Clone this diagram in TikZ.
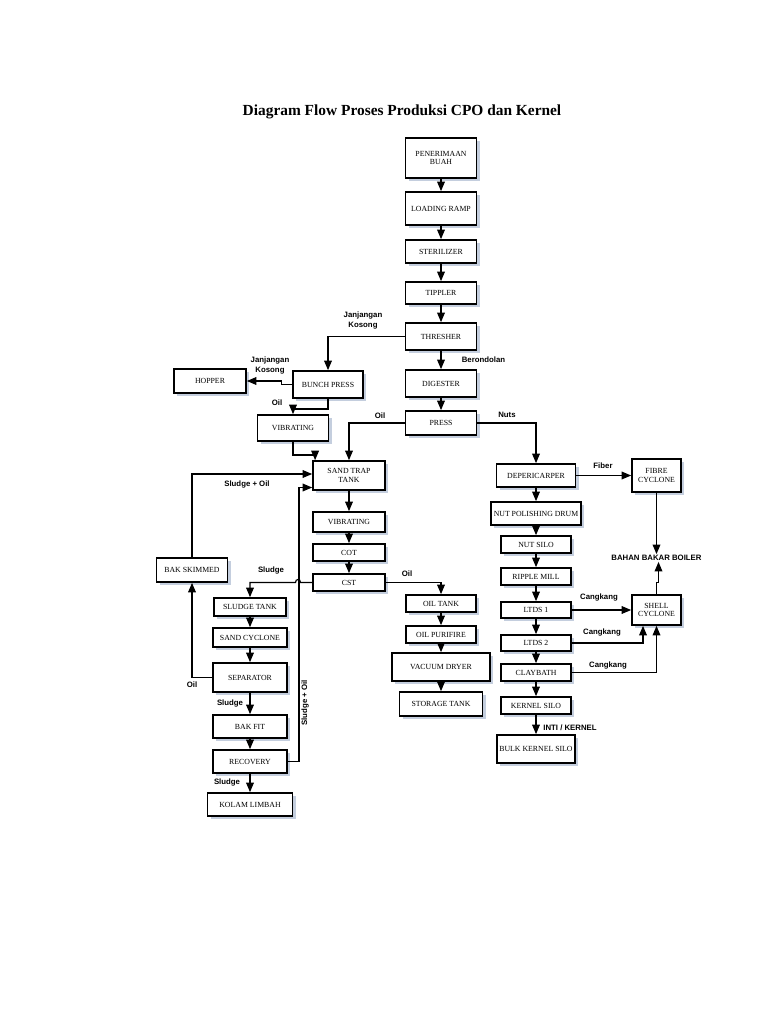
\documentclass[tikz,border=0pt]{standalone}
\usepackage{fontspec}
\setmainfont{Liberation Serif}
\newfontfamily\lblfont{Liberation Sans}
\usetikzlibrary{arrows,shadows}
\definecolor{shade}{RGB}{196,206,222}
\tikzset{
  blk/.style 2 args={draw, line width=1.8pt, fill=white, align=center, inner sep=1pt,
    minimum width=#1pt, minimum height=#2pt, font=\fontsize{7.8}{8.8}\selectfont,
    drop shadow={shadow xshift=3pt, shadow yshift=-3pt, fill=shade, opacity=1}},
  lbl/.style={font=\lblfont\bfseries\fontsize{7.8}{10}\selectfont, inner sep=1pt, align=center},
  flow/.style={->, line width=1.2pt}
}
\begin{document}
\begin{tikzpicture}[>=triangle 45,x=1pt,y=-1pt]
\fill[white] (0,0) rectangle (768,1024);
\useasboundingbox (0,0) rectangle (768,1024);
\node[font=\bfseries\fontsize{15.4}{18}\selectfont] (title) at (402,112) {Diagram Flow Proses Produksi CPO dan Kernel};

\node[blk={71}{40}] (buah) at (441,158) {PENERIMAAN\\BUAH};
\node[blk={71}{33}] (ramp) at (441,208.5) {LOADING RAMP};
\node[blk={71}{23}] (steril) at (441,251.5) {STERILIZER};
\node[blk={71}{22}] (tippler) at (441,293) {TIPPLER};
\node[blk={71}{27}] (thresher) at (441,336.5) {THRESHER};
\node[blk={71}{27}] (digester) at (441,383.5) {DIGESTER};
\node[blk={71}{24}] (press) at (441,423) {PRESS};
\node[blk={70}{27}] (bunch) at (328,384.5) {BUNCH PRESS};
\node[blk={72}{24}] (hopper) at (210,381) {HOPPER};
\node[blk={71}{26}] (vib1) at (293,428) {VIBRATING};
\node[blk={72}{29}] (stt) at (349,475.5) {SAND TRAP\\TANK};
\node[blk={72}{20}] (vib2) at (349,522) {VIBRATING};
\node[blk={72}{17}] (cot) at (349,552.5) {COT};
\node[blk={72}{17}] (cst) at (349,582.5) {CST};
\node[blk={71}{24}] (skim) at (192,570) {BAK SKIMMED};
\node[blk={72}{18}] (sludge) at (250,607) {SLUDGE TANK};
\node[blk={74}{19}] (sandcyc) at (250,637.5) {SAND CYCLONE};
\node[blk={74}{29}] (sep) at (250,677.5) {SEPARATOR};
\node[blk={74}{23}] (bakfit) at (250,726.5) {BAK FIT};
\node[blk={74}{23}] (recov) at (250,761.5) {RECOVERY};
\node[blk={85}{23}] (kolam) at (250,804.5) {KOLAM LIMBAH};
\node[blk={70}{17}] (oiltank) at (441,603.5) {OIL TANK};
\node[blk={70}{17}] (purif) at (441,634.5) {OIL PURIFIRE};
\node[blk={98}{28}] (vacuum) at (441,667) {VACUUM DRYER};
\node[blk={83}{24}] (storage) at (441,704) {STORAGE TANK};
\node[blk={79}{23}] (deper) at (536,475.5) {DEPERICARPER};
\node[blk={49}{33}] (fibre) at (656.5,475.5) {FIBRE\\CYCLONE};
\node[blk={90}{23}] (npd) at (536,513.5) {NUT POLISHING DRUM};
\node[blk={70}{17}] (nutsilo) at (536,544.5) {NUT SILO};
\node[blk={70}{17}] (ripple) at (536,576.5) {RIPPLE MILL};
\node[blk={70}{16}] (ltds1) at (536,610) {LTDS 1};
\node[blk={70}{16}] (ltds2) at (536,643) {LTDS 2};
\node[blk={70}{17}] (clay) at (536,672.5) {CLAYBATH};
\node[blk={70}{17}] (kernel) at (536,705.5) {KERNEL SILO};
\node[blk={78}{28}] (bulk) at (536,749) {BULK KERNEL SILO};
\node[blk={49}{30}] (shell) at (656.5,610) {SHELL\\CYCLONE};
\node[lbl] (boiler) at (656.5,558) {BAHAN BAKAR BOILER};

\node[lbl] (jk1) at (363,320.5) {Janjangan\\Kosong};
\node[lbl] (jk2) at (270,365.5) {Janjangan\\Kosong};
\node[lbl] (oil1) at (277,403) {Oil};
\node[lbl] (oil2) at (380,416) {Oil};
\node[lbl] (nuts) at (507,415) {Nuts};
\node[lbl] (beron) at (483.5,360) {Berondolan};
\node[lbl] (slo1) at (247,484) {Sludge + Oil};
\node[lbl, rotate=90] (slo2) at (305,703) {Sludge + Oil};
\node[lbl] (sludge1) at (271,570) {Sludge};
\node[lbl] (oil3) at (407,574) {Oil};
\node[lbl] (oil4) at (192,685) {Oil};
\node[lbl] (sludge2) at (230,703) {Sludge};
\node[lbl] (sludge3) at (227,782) {Sludge};
\node[lbl] (fiber) at (603,466) {Fiber};
\node[lbl] (cang1) at (599,597) {Cangkang};
\node[lbl] (cang2) at (602,632) {Cangkang};
\node[lbl] (cang3) at (608,665) {Cangkang};
\node[lbl] (inti) at (570,728) {INTI / KERNEL};
\coordinate (hop) at (298,582.5);

\draw[flow] (buah) -- (ramp);
\draw[flow] (ramp) -- (steril);
\draw[flow] (steril) -- (tippler);
\draw[flow] (tippler) -- (thresher);
\draw[flow] (thresher) -- (digester);
\draw[flow] (digester) -- (press);
\draw[flow] (thresher.west) -| (bunch.north);
\draw[flow] (bunch.west) -- ++(-11,0) |- (hopper.east);
\draw[flow] (bunch.south) -- ++(0,10) -| (vib1.north);
\draw[flow] (vib1.south) -- ++(0,13) -| ([xshift=3pt]stt.north west);
\draw[flow] (press.west) -| (stt.north);
\draw[flow] (press.east) -| (deper.north);
\draw[flow] (stt) -- (vib2);
\draw[flow] (vib2) -- (cot);
\draw[flow] (cot) -- (cst);
\draw[flow] (cst.east) -| (oiltank.north);
\draw[flow] (cst.west) -- ([xshift=2.5pt]hop) .. controls +(0,-4) and +(0,-4) .. ([xshift=-2.5pt]hop) -| (sludge.north);
\draw[flow] (skim.north) |- ([yshift=1.5pt]stt.west);
\draw[flow] (recov.east) -- ++(11,0) |- ([yshift=-12pt]stt.west);
\draw[flow] (sludge) -- (sandcyc);
\draw[flow] (sandcyc) -- (sep);
\draw[flow] (sep) -- (bakfit);
\draw[flow] (bakfit) -- (recov);
\draw[flow] (recov) -- (kolam);
\draw[flow] (sep.west) -| (skim.south);
\draw[flow] (oiltank) -- (purif);
\draw[flow] (purif) -- (vacuum);
\draw[flow] (vacuum) -- (storage);
\draw[flow] (deper) -- (fibre);
\draw[flow] (fibre.south) -- (boiler.north);
\draw[flow] (shell.north) -- ++(0,-12) -| ([xshift=2pt]boiler.south);
\draw[flow] (deper) -- (npd);
\draw[flow] (npd) -- (nutsilo);
\draw[flow] (nutsilo) -- (ripple);
\draw[flow] (ripple) -- (ltds1);
\draw[flow] (ltds1) -- (ltds2);
\draw[flow] (ltds2) -- (clay);
\draw[flow] (clay) -- (kernel);
\draw[flow] (kernel) -- (bulk);
\draw[flow] (ltds1) -- (shell);
\draw[flow] (ltds2.east) -| ([xshift=-13.5pt]shell.south);
\draw[flow] (clay.east) -| (shell.south);
\end{tikzpicture}
\end{document}
